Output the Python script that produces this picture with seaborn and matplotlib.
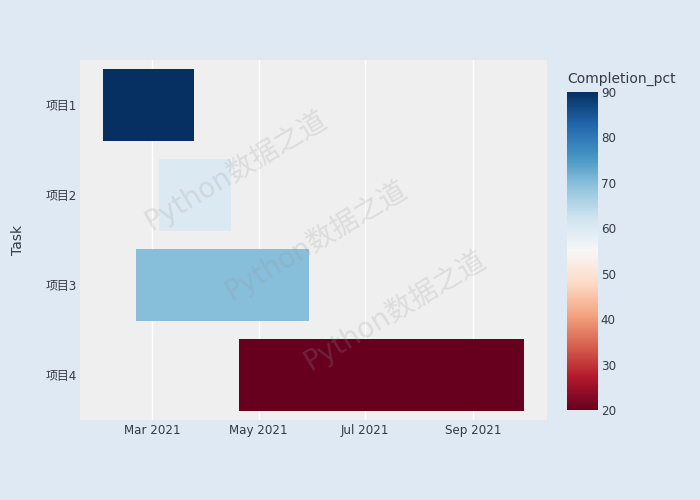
import matplotlib
matplotlib.use("Agg")
import matplotlib.pyplot as plt
import matplotlib.dates as mdates
import seaborn as sns
import pandas as pd

# data
tasks = ["项目1", "项目2", "项目3", "项目4"]
starts = ["2021-02-01", "2021-03-05", "2021-02-20", "2021-04-20"]
finishes = ["2021-03-25", "2021-04-15", "2021-05-30", "2021-09-30"]
completion = [90, 60, 70, 20]

df = pd.DataFrame({"Task": tasks,
                   "Start": pd.to_datetime(starts),
                   "Finish": pd.to_datetime(finishes),
                   "Completion_pct": completion})

sns.set_theme(style="white")
plt.rcParams["font.family"] = ["DejaVu Sans", "Noto Sans CJK SC"]
txt = "#333a44"
paper = "#dfe9f4"
plotbg = "#efefef"

fig = plt.figure(figsize=(7, 5), dpi=100, facecolor=paper)
ax = fig.add_axes([0.1143, 0.16, 0.6671, 0.72])
ax.set_facecolor(plotbg)

cmap = plt.get_cmap("RdBu")
norm = plt.Normalize(20, 90)

# gantt bars
ypos = list(range(len(df)))
left = mdates.date2num(df["Start"])
width = mdates.date2num(df["Finish"]) - left
ax.barh(ypos, width, left=left, height=0.8, linewidth=0,
        color=[cmap(norm(v)) for v in df["Completion_pct"]], zorder=3)

ax.set_yticks(ypos)
ax.set_yticklabels(df["Task"])
ax.set_ylim(3.5, -0.5)

span = (df["Finish"].max() - df["Start"].min()) * 0.055
ax.set_xlim(mdates.date2num(df["Start"].min() - span),
            mdates.date2num(df["Finish"].max() + span))
ax.xaxis.set_major_locator(mdates.MonthLocator(bymonth=[3, 5, 7, 9]))
ax.xaxis.set_major_formatter(mdates.DateFormatter("%b %Y"))
ax.grid(axis="x", color="white", linewidth=1, zorder=0)
ax.set_axisbelow(True)

for s in ax.spines.values():
    s.set_visible(False)
ax.tick_params(axis="both", length=0, labelsize=8.6, colors=txt)
ax.tick_params(axis="y", pad=2)
ax.tick_params(axis="x", pad=3)
ax.set_ylabel("")
ax.set_xlabel("")
fig.text(18 / 700, 0.52, "Task", rotation=90, fontsize=10, color=txt, ha="center", va="center")

# colorbar
cax = fig.add_axes([0.81, 0.18, 0.0443, 0.636])
sm = plt.cm.ScalarMappable(cmap=cmap, norm=norm)
cb = fig.colorbar(sm, cax=cax, ticks=range(20, 91, 10))
cb.outline.set_visible(False)
cax.tick_params(length=0, labelsize=8.6, colors=txt, pad=2)
fig.text(0.81, 0.842, "Completion_pct", fontsize=10, color=txt, ha="left", va="center")

# watermark
for cx, cy in [(0.336, 0.66), (0.45, 0.52), (0.564, 0.38)]:
    fig.text(cx, cy, "Python数据之道", fontsize=20, color="#999999", alpha=0.22,
             rotation=31, ha="center", va="center", rotation_mode="anchor", zorder=10)

fig.savefig("out.png", dpi=100, facecolor=paper)
